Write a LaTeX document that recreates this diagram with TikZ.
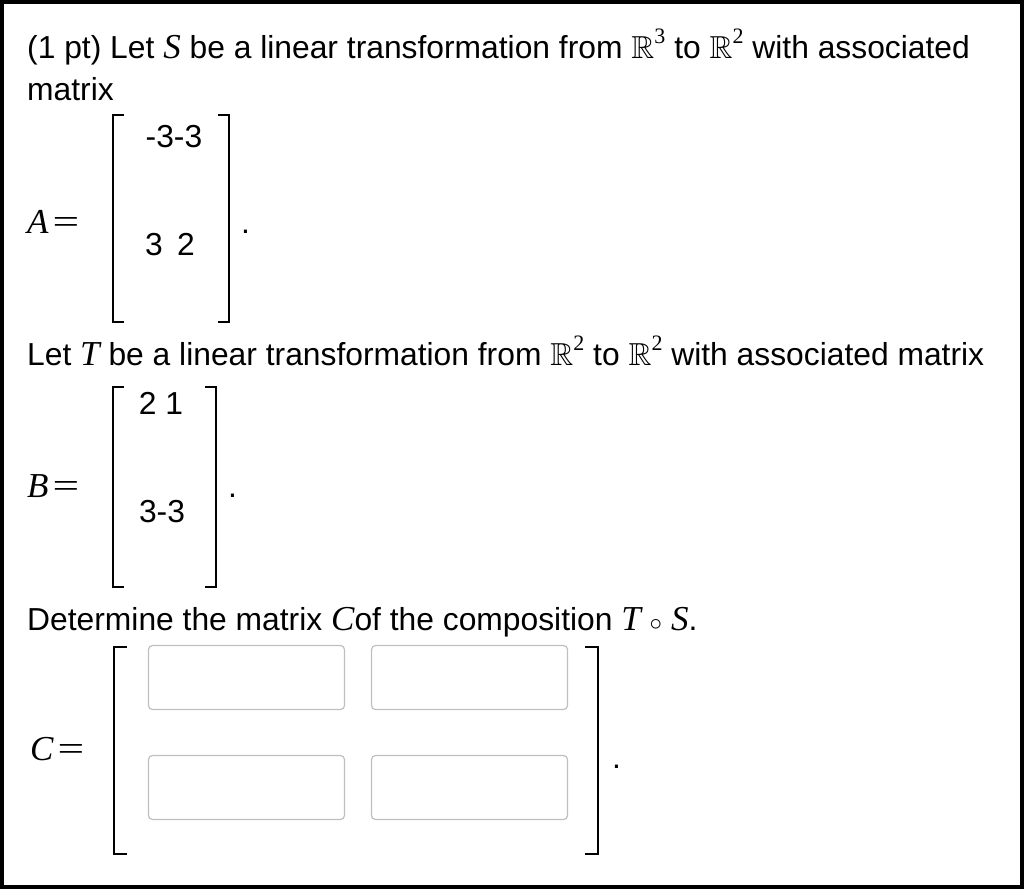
\documentclass[tikz,border=0pt]{standalone}
\usepackage{amssymb}
\usepackage{fontspec}
\setmainfont{Liberation Sans}
\newfontfamily\serifit{Liberation Serif}
\newcommand{\mi}[1]{{\serifit\itshape\fontsize{35}{36}\selectfont #1}}
\newcommand{\ser}[1]{{\serifit\fontsize{35}{36}\selectfont\hspace{4pt}\scalebox{1.35}[1]{#1}}}
\newcommand{\RR}[1]{$\mathbb{R}$\raisebox{0.45em}{\fontsize{22}{22}\selectfont\serifit #1}}
\begin{document}
\begin{tikzpicture}[x=1pt,y=-1pt,
  txt/.style={anchor=base west,inner sep=0pt,font=\fontsize{31.8}{36}\selectfont},
  ent/.style={inner sep=0pt,font=\fontsize{31.8}{36}\selectfont},
  brk/.style={line width=2.5pt},
  box/.style={draw=black!25,line width=1.2pt,rounded corners=4pt}]
\useasboundingbox (0,0) rectangle (1024,889);
\draw[line width=4pt] (2,2) rectangle (1022,887);
\node[txt] (l1) at (27,58) {(1 pt) Let \mi{S} be a linear transformation from \RR{3} to \RR{2} with associated};
\node[txt] (l2) at (27,100) {matrix};
% A
\node[txt] (Aeq) at (27,233) {\mi{A}\ser{=}};
\draw[brk] (124,115) -- (113,115) -- (113,322) -- (124,322);
\draw[brk] (218,115) -- (229,115) -- (229,322) -- (218,322);
\node[ent] (a1) at (174,137) {-3-3};
\node[ent] (a2) at (170,245) {3\, 2};
\node[txt] (Ad) at (241,233) {.};
\node[txt] (l3) at (27,365) {Let \mi{T} be a linear transformation from \RR{2} to \RR{2} with associated matrix};
% B
\node[txt] (Beq) at (27,497) {\mi{B}\ser{=}};
\draw[brk] (124,387) -- (113,387) -- (113,587) -- (124,587);
\draw[brk] (205,387) -- (216,387) -- (216,587) -- (205,587);
\node[ent] (b1) at (161,403) {2 1};
\node[ent] (b2) at (162,512) {3-3};
\node[txt] (Bd) at (228,497) {.};
\node[txt] (l4) at (27,630) {Determine the matrix \mi{C}of the composition \mi{T} $\circ$ \mi{S}.};
% C
\node[txt] (Ceq) at (30,760) {\mi{C}\ser{=}};
\draw[brk] (127,647) -- (114,647) -- (114,854) -- (127,854);
\draw[brk] (585,647) -- (598,647) -- (598,854) -- (585,854);
\node[box,minimum width=196pt,minimum height=64pt] (c11) at (246.5,677.5) {};
\node[box,minimum width=196pt,minimum height=64pt] (c12) at (469.5,677.5) {};
\node[box,minimum width=196pt,minimum height=64pt] (c21) at (246.5,787.5) {};
\node[box,minimum width=196pt,minimum height=64pt] (c22) at (469.5,787.5) {};
\node[txt] (Cd) at (612,768) {.};
\end{tikzpicture}
\end{document}
